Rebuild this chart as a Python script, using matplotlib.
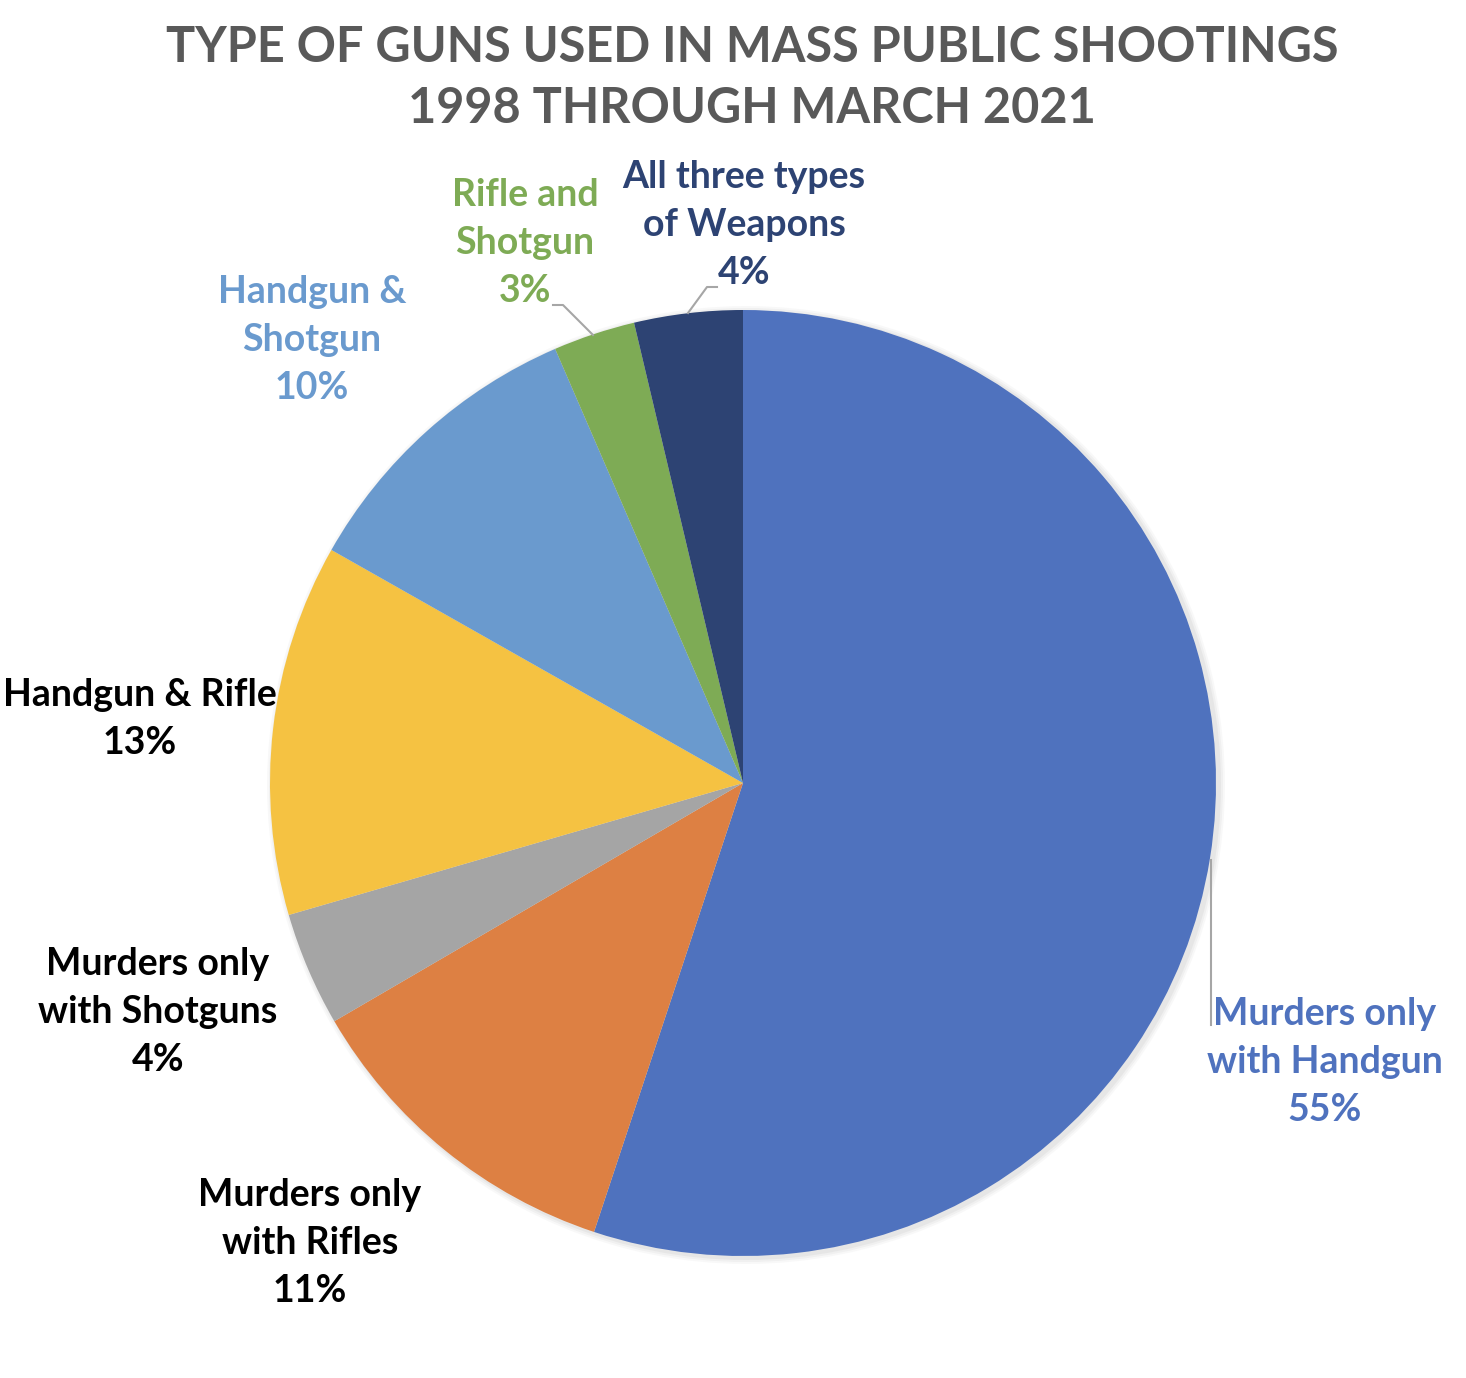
import matplotlib.pyplot as plt
from matplotlib.patches import Circle

plt.rcParams['font.family'] = ['Lato', 'DejaVu Sans']

# data, clockwise from 12 o'clock
labels = ["Murders only\nwith Handgun", "Murders only\nwith Rifles", "Murders only\nwith Shotguns",
          "Handgun & Rifle", "Handgun &\nShotgun", "Rifle and\nShotgun", "All three types\nof Weapons"]
shares = [55.1, 11.5, 3.9, 12.7, 10.3, 2.8, 3.7]   # slice sizes
pct_text = [55, 11, 4, 13, 10, 3, 4]                # percentages as printed on the chart
colors = ["#4F72BE", "#DD8043", "#A5A5A5", "#F5C242", "#6A9ACE", "#7EAB55", "#2D4373"]
text_colors = ["#4F72BE", "black", "black", "black", "#6A9ACE", "#7EAB55", "#2D4373"]

# label centres in pixel coords (top-left origin)
label_pos = [(1325, 1062), (310, 1243), (158, 1012), (140, 719), (312, 340), (525, 243), (744, 225)]

W, H = 1466, 1378
fig = plt.figure(figsize=(W / 100, H / 100), dpi=100)
ax = fig.add_axes([0, 0, 1, 1])

cx, cy, r = 743, 783, 473

# soft shadow around the pie
for i, a in enumerate([0.05, 0.07, 0.09]):
    ax.add_patch(Circle((cx + 3, cy + 2), r + 6 - 2 * i, color='#888888', alpha=a, lw=0, zorder=0))

# y axis gets inverted below: start at -90 going "counterclockwise" = top, clockwise on screen
ax.pie(shares, colors=colors, startangle=-90, counterclock=True, center=(cx, cy), radius=r,
       wedgeprops=dict(linewidth=0, zorder=1), frame=True)
ax.set_xlim(0, W)
ax.set_ylim(H, 0)
ax.set_aspect('equal')
ax.axis('off')

for lab, p, c, (x, y) in zip(labels, pct_text, text_colors, label_pos):
    ax.text(x, y, f"{lab}\n{p}%", ha='center', va='center', color=c, fontsize=27,
            fontweight='bold', linespacing=1.5, zorder=3)

# leader lines
lc = '#A6A6A6'
ax.plot([1211, 1211], [860, 1025], color=lc, lw=1.5, zorder=2)
ax.plot([688, 707, 717], [313, 287, 287], color=lc, lw=1.5, zorder=2)
ax.plot([593, 563, 553], [335, 305, 305], color=lc, lw=1.5, zorder=2)

ax.text(752, 78, "TYPE OF GUNS USED IN MASS PUBLIC SHOOTINGS\n1998 THROUGH MARCH 2021",
        ha='center', va='center', color='#595959', fontsize=35, fontweight='bold', linespacing=1.44)

fig.savefig('out.png', dpi=100)
